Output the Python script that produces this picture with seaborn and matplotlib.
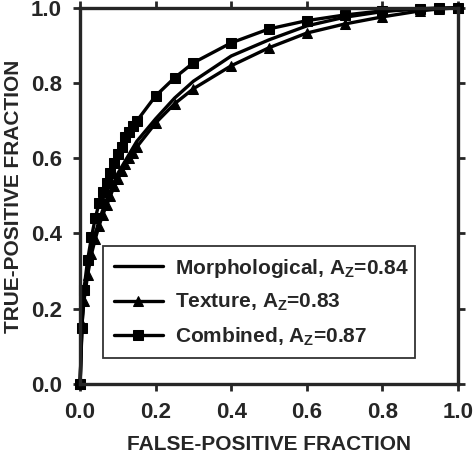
import matplotlib
matplotlib.use("Agg")
import matplotlib.pyplot as plt
import seaborn as sns
import pandas as pd

# Data
morph_fpf = [0.0, 0.005, 0.01, 0.02, 0.03, 0.05, 0.07, 0.10, 0.15, 0.20, 0.25, 0.30, 0.40, 0.50, 0.60, 0.70, 0.80, 0.90, 1.0]
morph_tpf = [0.0, 0.17, 0.23, 0.30, 0.355, 0.435, 0.49, 0.56, 0.645, 0.705, 0.76, 0.805, 0.872, 0.915, 0.952, 0.975, 0.99, 0.998, 1.0]

pt_fpf = [0.0, 0.005, 0.01, 0.02, 0.03, 0.04, 0.05, 0.06, 0.07, 0.08, 0.09, 0.10, 0.11, 0.12, 0.13, 0.14, 0.15,
          0.20, 0.25, 0.30, 0.40, 0.50, 0.60, 0.70, 0.80, 0.90, 0.95, 1.0]
texture_tpf = [0.0, 0.16, 0.22, 0.29, 0.345, 0.385, 0.42, 0.45, 0.475, 0.50, 0.525, 0.545, 0.565, 0.585, 0.60, 0.615, 0.63,
               0.694, 0.745, 0.785, 0.846, 0.894, 0.933, 0.957, 0.976, 0.992, 0.997, 1.0]
combined_tpf = [0.0, 0.15, 0.25, 0.33, 0.39, 0.44, 0.48, 0.51, 0.535, 0.561, 0.588, 0.612, 0.63, 0.657, 0.67, 0.686, 0.699,
                0.766, 0.814, 0.854, 0.907, 0.944, 0.966, 0.981, 0.992, 0.997, 0.999, 1.0]

labels = ["Morphological, A$_\\mathregular{Z}$=0.84",
          "Texture, A$_\\mathregular{Z}$=0.83",
          "Combined, A$_\\mathregular{Z}$=0.87"]
x_ticks = [0.0, 0.2, 0.4, 0.6, 0.8, 1.0]

series = [
    (pd.DataFrame({"fpf": morph_fpf, "tpf": morph_tpf}), labels[0], None),
    (pd.DataFrame({"fpf": pt_fpf, "tpf": texture_tpf}), labels[1], "^"),
    (pd.DataFrame({"fpf": pt_fpf, "tpf": combined_tpf}), labels[2], "s"),
]

sns.set_style("ticks")
plt.rcParams["font.family"] = ["Liberation Sans", "DejaVu Sans"]
plt.rcParams["font.weight"] = "bold"
plt.rcParams["mathtext.fontset"] = "custom"
plt.rcParams["mathtext.rm"] = "Liberation Sans:bold"
plt.rcParams["mathtext.it"] = "Liberation Sans:bold"
plt.rcParams["mathtext.bf"] = "Liberation Sans:bold"

fig = plt.figure(figsize=(4.74, 4.62), dpi=100)
ax = fig.add_axes([0.169, 0.169, 0.797, 0.814])

for d, lab, mk in series:
    kw = {}
    if mk is not None:
        kw = dict(marker=mk, markersize=6.5, markeredgecolor="black", markerfacecolor="black")
    sns.lineplot(data=d, x="fpf", y="tpf", color="black", linewidth=2.4, sort=False,
                 estimator=None, label=lab, ax=ax, clip_on=False, **kw)

ax.set_xlim(0, 1)
ax.set_ylim(0, 1)
ax.set_xticks(x_ticks)
ax.set_yticks(x_ticks)
ax.set_xticklabels([f"{t:.1f}" for t in x_ticks])
ax.set_yticklabels([f"{t:.1f}" for t in x_ticks])
ax.tick_params(axis="both", which="both", direction="out", length=5, width=2,
               labelsize=16, top=True, right=True, pad=8)
for s in ax.spines.values():
    s.set_linewidth(2.4)
    s.set_visible(True)
ax.set_xlabel("FALSE-POSITIVE FRACTION", fontsize=15, fontweight="bold", labelpad=9)
ax.set_ylabel("TRUE-POSITIVE FRACTION", fontsize=15, fontweight="bold", labelpad=6)

leg = ax.legend(loc="lower left", bbox_to_anchor=(0.061, 0.069, 0.825, 0.306), mode="expand",
                borderaxespad=0, fontsize=15, frameon=True, fancybox=False, handlelength=2.35,
                borderpad=0.5, labelspacing=0.58, handletextpad=0.58)
leg.get_frame().set_edgecolor("black")
leg.get_frame().set_linewidth(1.3)
for t in leg.get_texts():
    t.set_fontweight("bold")

fig.savefig("out.png", dpi=100)
